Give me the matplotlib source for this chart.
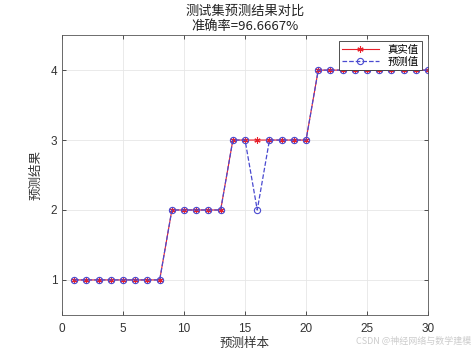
import matplotlib
matplotlib.use("Agg")
import matplotlib.pyplot as plt
import numpy as np

plt.rcParams['font.family'] = ['Liberation Sans', 'Noto Sans CJK SC', 'DejaVu Sans']

samples = list(range(1, 31))
true_vals = [1]*8 + [2]*5 + [3]*7 + [4]*10
pred_vals = [1]*8 + [2]*5 + [3, 3, 2, 3, 3, 3, 3] + [4]*10
accuracy = 96.6667

fig = plt.figure(figsize=(4.74, 3.55), dpi=100)
ax = fig.add_axes([0.131, 0.113, 0.772, 0.788])

ax.plot(samples, true_vals, '-', color='#e8202a', lw=0.8, marker=(6, 2, 0), ms=4.5,
        markeredgewidth=0.8, label='真实值')
ax.plot(samples, pred_vals, '--', color='#4a4ad0', lw=0.9, marker='o', ms=4.5,
        markerfacecolor='none', markeredgewidth=0.8, label='预测值')

ax.set_xlim(0, 30)
ax.set_ylim(0.5, 4.5)
ax.set_xticks([0, 5, 10, 15, 20, 25, 30])
ax.set_yticks([1, 2, 3, 4])
ax.grid(True, color='#e6e6e6', lw=0.6)
ax.set_axisbelow(True)
for s in ax.spines.values():
    s.set_color('#555555')
    s.set_linewidth(0.6)
ax.tick_params(direction='in', length=3, width=0.6, colors='#333333', labelsize=8.5, top=True, right=True,
               labeltop=False, labelright=False)
ax.tick_params(axis='x', pad=6)

ax.set_xlabel('预测样本', fontsize=9, color='#333333', family=['Noto Sans CJK SC'], labelpad=1)
ax.set_ylabel('预测结果', fontsize=9, color='#333333', family=['Noto Sans CJK SC'], labelpad=6)
ax.set_title('测试集预测结果对比\n准确率=%.4f%%' % accuracy, fontsize=9.5, color='#222222',
             family=['Noto Sans CJK SC', 'Liberation Sans'], pad=4, linespacing=1.2)

leg = ax.legend(loc='upper right', prop={'family': ['Noto Sans CJK SC'], 'size': 7.5},
                fancybox=False, edgecolor='#333333', framealpha=1, handlelength=3.6,
                borderpad=0.3, labelspacing=0.2, borderaxespad=0.6)
leg.get_frame().set_linewidth(0.6)

fig.text(0.995, 0.025, 'CSDN @神经网络与数学建模', ha='right', va='bottom', fontsize=6.5,
         color='#cccccc', family=['Noto Sans CJK SC'])

fig.savefig('out.png', dpi=100)
